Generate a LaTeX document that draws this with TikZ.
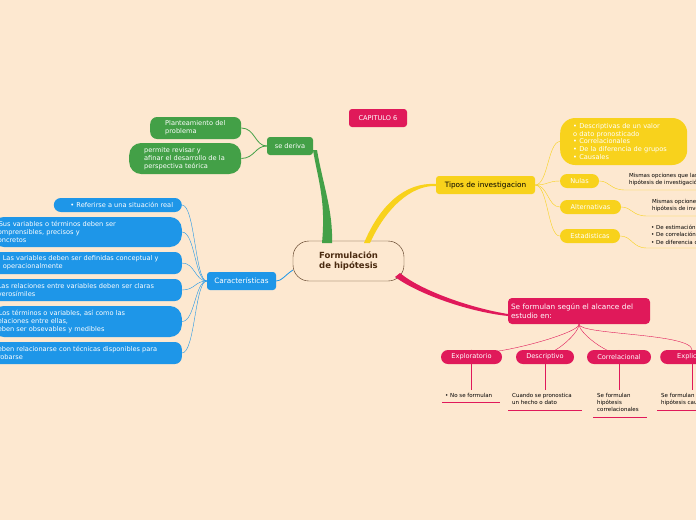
\documentclass[tikz,border=0pt]{standalone}
\usepackage{fontspec}
\setmainfont{DejaVu Sans}
\begin{document}
\definecolor{bg}{HTML}{FDE8D0}
\definecolor{gr}{HTML}{43A047}
\definecolor{bl}{HTML}{1E96E8}
\definecolor{ye}{HTML}{F8D21C}
\definecolor{rd}{HTML}{E0195A}
\definecolor{br}{HTML}{4A2A10}
\begin{tikzpicture}[x=1pt,y=-1pt,
 base/.style={rounded corners=7pt,inner sep=2pt,font=\fontsize{6.6}{8}\selectfont,align=left},
 G/.style={base,fill=gr,text=white},
 B/.style={base,fill=bl,text=white},
 Y/.style={base,fill=ye,text=white},
 R/.style={base,fill=rd,text=white},
 T/.style={font=\fontsize{5.5}{7.2}\selectfont,align=left,text=black,inner sep=1pt,anchor=north west}]
\useasboundingbox (0,0) rectangle (696,520);
\fill[bg] (0,0) rectangle (696,520);
% nodes
\node[draw=br,fill=bg,rounded corners=16pt,minimum width=111pt,minimum height=40pt,font=\bfseries\fontsize{8.5}{10}\selectfont,text=br,align=center] (c) at (348.5,261) {Formulación\\de hipótesis};
\node[R,minimum width=58pt,minimum height=18pt,rounded corners=3pt,align=center] (cap) at (378,118) {CAPITULO 6};
\node[G,minimum width=46pt,minimum height=18pt,rounded corners=3pt] (sd) at (290,146) {se deriva};
\node[G,minimum width=91pt,minimum height=22pt,anchor=west,align=left,text width=85pt] (pp) at (150,128) {\hspace{12pt}Planteamiento del\\\hspace{12pt}problema};
\node[G,minimum width=112pt,minimum height=31pt,rounded corners=12pt,anchor=west,text width=106pt] (pr) at (129,158.5) {\hspace{12pt}permite revisar y\\\hspace{12pt}afinar el desarrollo de la\\\hspace{12pt}perspectiva teórica};
\node[B,minimum width=69pt,minimum height=18pt,rounded corners=3pt,font=\fontsize{7.3}{8}\selectfont] (ca) at (241.5,281) {Características};
\node[B,minimum width=128pt,minimum height=14pt,anchor=east] (b1) at (182,205) {\hspace{8pt}• Referirse a una situación real};
\node[B,minimum width=190pt,minimum height=30pt,rounded corners=12pt,anchor=east,text width=178pt] (b2) at (182,232) {\hspace{1pt}Sus variables o términos deben ser\\omprensibles, precisos y\\oncretos};
\node[B,minimum width=190pt,minimum height=22pt,anchor=east,text width=178pt] (b3) at (182,263) {\hspace{5pt}Las variables deben ser definidas conceptual y\\\hspace{5pt}operacionalmente};
\node[B,minimum width=190pt,minimum height=22pt,anchor=east,text width=178pt] (b4) at (182,290) {Las relaciones entre variables deben ser claras\\verosímiles};
\node[B,minimum width=190pt,minimum height=31pt,rounded corners=12pt,anchor=east,text width=178pt] (b5) at (182,321.5) {\hspace{1pt}Los términos o variables, así como las\\elaciones entre ellas,\\eben ser obsevables y medibles};
\node[B,minimum width=190pt,minimum height=22pt,anchor=east,text width=178pt] (b6) at (182,353) {eben relacionarse con técnicas disponibles para\\robarse};
\node[Y,text=black,minimum width=99pt,minimum height=18pt,rounded corners=3pt,font=\fontsize{7.3}{8}\selectfont] (ti) at (485.5,185) {Tipos de investigacion};
\node[Y,minimum width=127pt,minimum height=47pt,rounded corners=15pt,anchor=west,text width=121pt,font=\fontsize{6.6}{7.8}\selectfont] (yl) at (560,141.5) {\hspace{10pt}• Descriptivas de un valor\\\hspace{10pt}o dato pronosticado\\\hspace{10pt}• Correlacionales\\\hspace{10pt}• De la diferencia de grupos\\\hspace{10pt}• Causales};
\node[Y,minimum width=39pt,minimum height=14pt,align=center] (nu) at (579.5,181) {Nulas};
\node[Y,minimum width=61pt,minimum height=14pt,align=center] (al) at (590.5,207) {Alternativas};
\node[Y,minimum width=60pt,minimum height=14pt,align=center] (es) at (590,236) {Estadisticas};
\node[T] (tn) at (628,172) {Mismas opciones que las\\hipótesis de investigación};
\node[T] (ta) at (651,198) {Mismas opciones que las\\hipótesis de investigación};
\node[T] (te) at (650,224) {• De estimación\\• De correlación\\• De diferencia de grupos};
\node[R,minimum width=142pt,minimum height=26pt,rounded corners=4pt,text width=136pt,font=\fontsize{7.3}{8.5}\selectfont] (sf) at (579,311) {Se formulan según el alcance del\\estudio en:};
\node[R,minimum width=61pt,minimum height=14pt,align=center] (ex) at (471.5,357) {Exploratorio};
\node[R,minimum width=58pt,minimum height=14pt,align=center] (de) at (545,357) {Descriptivo};
\node[R,minimum width=64pt,minimum height=14pt,align=center] (co) at (619,357) {Correlacional};
\node[R,minimum width=64pt,minimum height=14pt,anchor=west] (ep) at (660,357) {\hspace{6pt}Explicativo};
\node[T] (t1) at (444,392) {• No se formulan};
\node[T] (t2) at (511,392) {Cuando se pronostica\\un hecho o dato};
\node[T] (t3) at (596,392) {Se formulan\\hipótesis\\correlacionales};
\node[T] (t4) at (660,392) {Se formulan\\hipótesis causales};
% connectors
\fill[gr] (322,243) .. controls (326,200) and (318,180) .. (313,150) -- (317,150) .. controls (323,185) and (333,210) .. (332,243) -- cycle;
\fill[ye] (370,243) .. controls (385,210) and (410,185) .. (436,186) -- (436,184) .. controls (405,182) and (380,205) .. (364,243) -- cycle;
\fill[rd] (395,277) .. controls (420,295) and (470,312) .. (508,316) -- (508,314) .. controls (470,308) and (420,290) .. (400,273) -- cycle;
\draw[bl,thick] (293,270) .. controls (285,275) and (282,281) .. (ca.east);
\draw[gr,thick] (sd.west) .. controls (255,146) and (255,128) .. (pp.east);
\draw[gr,thick] (sd.west) .. controls (255,146) and (255,158) .. (pr.east);
\foreach \n in {b1,b2,b3,b4,b5,b6}{\draw[bl] (ca.west) .. controls (195,281) and ([xshift=13pt]\n.east) .. (\n.east);}
\foreach \n in {yl,nu,al,es}{\draw[ye] (ti.east) .. controls (548,185) and ([xshift=-12pt]\n.west) .. (\n.west);}
\draw[ye] (nu.east) .. controls (610,181) and (610,190) .. (625,190) -- (696,190);
\draw[ye] (al.east) .. controls (632,207) and (632,216) .. (647,216) -- (696,216);
\draw[ye] (es.east) .. controls (632,236) and (632,248) .. (647,248) -- (696,248);
\foreach \n in {ex,de,co}{\draw[rd] (sf.south) .. controls (579,335) and ([yshift=-12pt]\n.north) .. (\n.north);}
\draw[rd] (sf.south) .. controls (579,335) and (692,333) .. (692,350);
\draw[rd] (ex.south) -- (471.5,390); \draw[rd] (442,402) -- (500,402);
\draw[rd] (de.south) -- (545,390); \draw[rd] (508,410) -- (582,410);
\draw[rd] (co.south) -- (619,390); \draw[rd] (593,417) -- (647,417);
\draw[rd] (692,364) -- (692,390); \draw[rd] (657,410) -- (696,410);
\end{tikzpicture}
\end{document}
